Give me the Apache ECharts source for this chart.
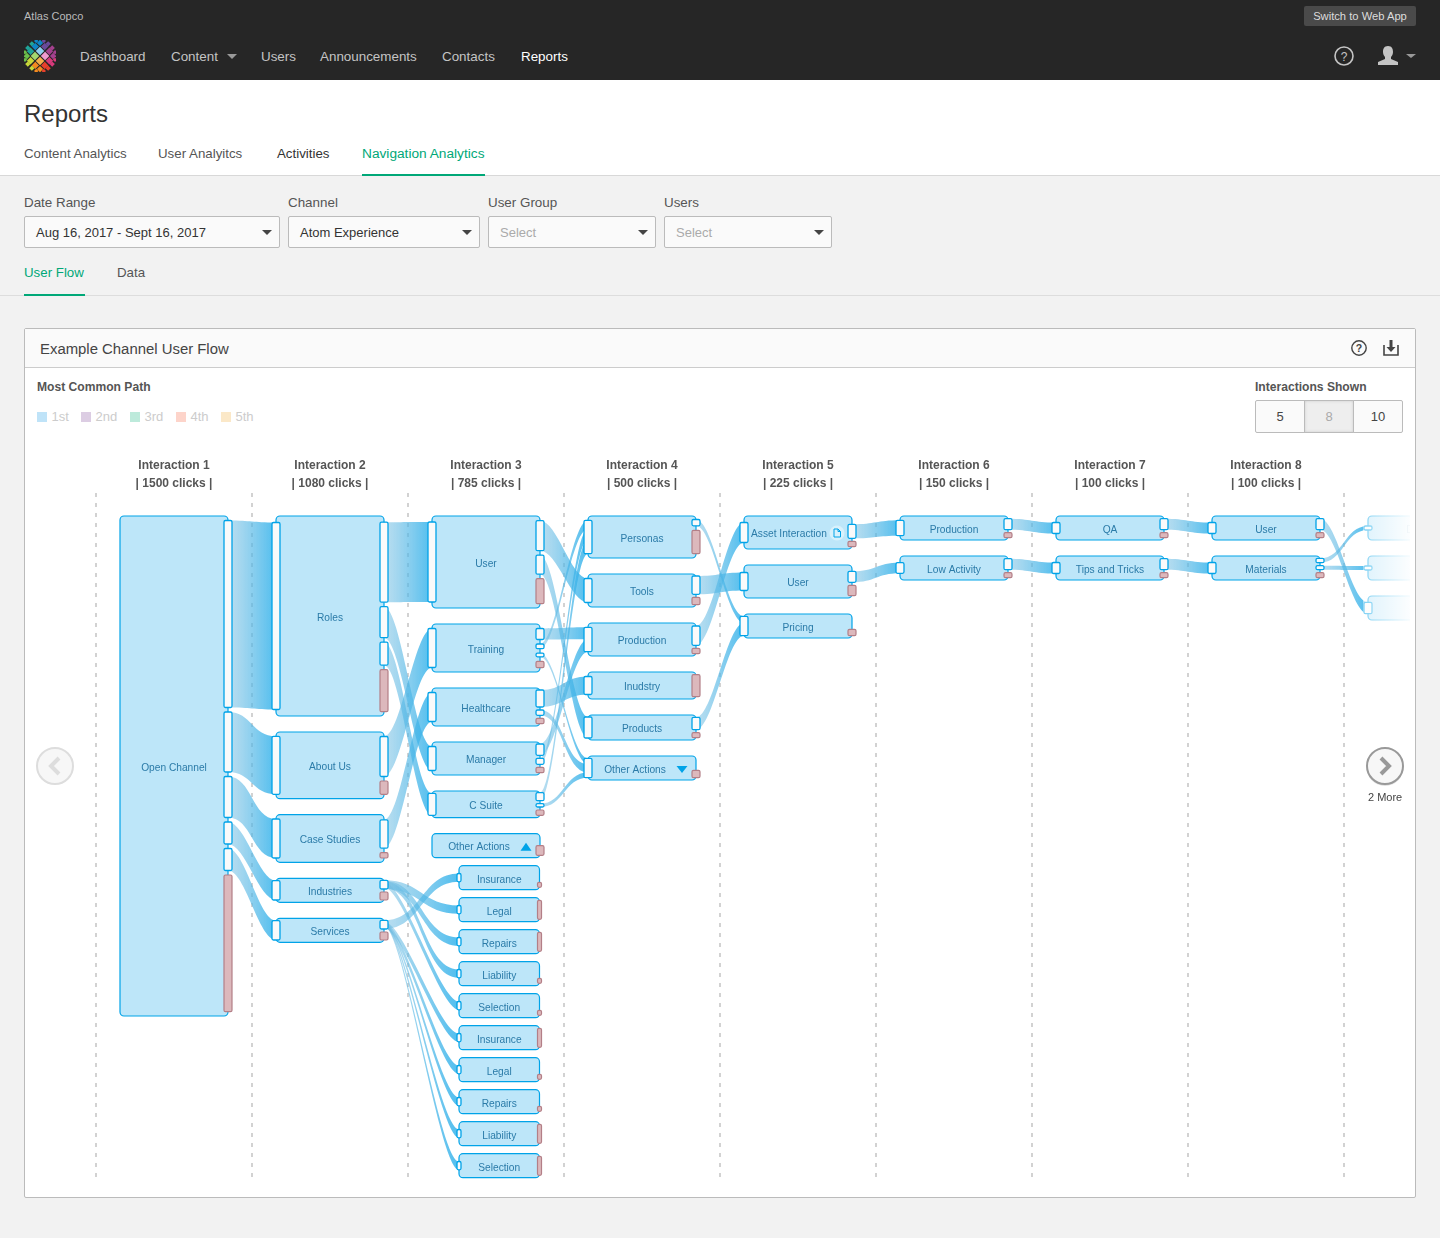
<!DOCTYPE html>
<html lang="en">
<head>
<meta charset="UTF-8">
<title>Reports - Navigation Analytics</title>
<script src="https://cdn.jsdelivr.net/npm/echarts@6/dist/echarts.min.js"></script>
<style>
    html, body { margin: 0; padding: 0; }
    body { width: 1440px; height: 1238px; position: relative; overflow: hidden; background: #f2f2f2;
           font-family: "Liberation Sans", Arial, sans-serif; color: #444; }
    .abs { position: absolute; white-space: nowrap; }
    .mid { transform: translateY(-50%); }
    #topbar { left: 0; top: 0; width: 1440px; height: 80px; background: #262626; }
    .nav { font-size: 13.4px; color: #c4c4c4; top: 56px; }
    #head { left: 0; top: 80px; width: 1440px; height: 95px; background: #fff; border-bottom: 1px solid #d8d8d8; }
    .tab { font-size: 13.3px; color: #555; }
    .green { color: #00a878; }
    .bar { background: #00a878; height: 2px; }
    .lab { font-size: 13.4px; color: #555; top: 202px; }
    .sel { top: 216px; height: 30px; background: #fafafa; border: 1px solid #bbb; border-radius: 2px; font-size: 13px;
           line-height: 31px; padding-left: 11px; box-sizing: content-box; color: #333; }
    .sel.off { color: #aaa; }
    .caret { width: 0; height: 0; border-left: 5px solid transparent; border-right: 5px solid transparent; border-top: 5px solid #444; }
    #card { left: 24px; top: 328px; width: 1390px; height: 868px; background: #fff; border: 1px solid #bbb; border-radius: 2px; }
    #cardhead { left: 25px; top: 329px; width: 1390px; height: 38px; background: #fafafa; border-bottom: 1px solid #ccc; }
    .sq { width: 10px; height: 10px; top: 412px; }
    .lg { font-size: 13px; color: #ccc; top: 416px; }
    .bold { font-size: 12.1px; font-weight: bold; color: #555; top: 386.500px; }
    .btn { top: 400px; width: 48px; height: 31px; border: 1px solid #bbb; font-size: 13px; line-height: 32px; text-align: center; background: #fafafa; color: #444; }
    #clip { left: 0; top: 440px; width: 1410px; height: 750px; overflow: hidden; }
    #main { position: absolute; left: 0; top: 0; width: 1510px; height: 750px; }
</style>
</head>
<body>
<div class="abs" id="topbar"></div>
<div class="abs mid" style="left:24px;top:16px;font-size:11px;color:#bbb">Atlas Copco</div>
<svg class="abs" id="logo" style="left:24px;top:40px" width="32" height="32" viewBox="0 0 32 32"></svg>
<div class="abs mid nav" style="left:80px">Dashboard</div>
<div class="abs mid nav" style="left:171px">Content</div>
<div class="abs caret" style="left:227px;top:54px;border-top-color:#999"></div>
<div class="abs mid nav" style="left:261px">Users</div>
<div class="abs mid nav" style="left:320px">Announcements</div>
<div class="abs mid nav" style="left:442px">Contacts</div>
<div class="abs mid nav" style="left:521px;color:#fff">Reports</div>
<div class="abs mid" style="left:1304px;top:16px;width:112px;height:20px;line-height:20px;text-align:center;background:#4a4a4a;border-radius:2px;font-size:11.2px;color:#ddd;transform:translateY(-50%)">Switch to Web App</div>
<svg class="abs" style="left:1330px;top:42px" width="90" height="30" viewBox="0 0 90 30">
    <circle cx="14" cy="14" r="9" fill="none" stroke="#c4c4c4" stroke-width="1.6"/>
    <text x="14" y="18.5" text-anchor="middle" font-size="12" fill="#c4c4c4" font-family="Liberation Sans">?</text>
    <path d="M58 4c4 0 5 3 5 6 0 2-1 4-2 5v2l7 3v3H48v-3l7-3v-2c-1-1-2-3-2-5 0-3 1-6 5-6z" fill="#c4c4c4"/>
    <path d="M76 12h10l-5 4z" fill="#999"/>
</svg>

<div class="abs" id="head"></div>
<div class="abs mid" style="left:24px;top:114px;font-size:24px;color:#333">Reports</div>
<div class="abs mid tab" style="left:24px;top:152.500px">Content Analytics</div>
<div class="abs mid tab" style="left:158px;top:152.500px">User Analyitcs</div>
<div class="abs mid tab" style="left:277px;top:152.500px;color:#333">Activities</div>
<div class="abs mid tab green" style="left:362px;top:152.500px;font-size:13.7px">Navigation Analytics</div>
<div class="abs bar" style="left:362px;top:174px;width:123px"></div>

<div class="abs mid lab" style="left:24px">Date Range</div>
<div class="abs mid lab" style="left:288px">Channel</div>
<div class="abs mid lab" style="left:488px">User Group</div>
<div class="abs mid lab" style="left:664px">Users</div>
<div class="abs sel" style="left:24px;width:243px">Aug 16, 2017 - Sept 16, 2017</div>
<div class="abs sel" style="left:288px;width:179px">Atom Experience</div>
<div class="abs sel off" style="left:488px;width:155px">Select</div>
<div class="abs sel off" style="left:664px;width:155px">Select</div>
<div class="abs caret" style="left:262px;top:230px"></div>
<div class="abs caret" style="left:462px;top:230px"></div>
<div class="abs caret" style="left:638px;top:230px"></div>
<div class="abs caret" style="left:814px;top:230px"></div>
<div class="abs mid tab green" style="left:24px;top:272px">User Flow</div>
<div class="abs mid tab" style="left:117px;top:272px">Data</div>
<div class="abs" style="left:0;top:295px;width:1440px;height:1px;background:#ddd"></div>
<div class="abs bar" style="left:24px;top:294px;width:61px"></div>

<div class="abs" id="card"></div>
<div class="abs" id="cardhead"></div>
<div class="abs mid" style="left:40px;top:348.500px;font-size:14.9px;color:#444">Example Channel User Flow</div>
<svg class="abs" style="left:1348px;top:337px" width="56" height="22" viewBox="0 0 56 22">
    <circle cx="11" cy="11" r="7.2" fill="none" stroke="#444" stroke-width="1.4"/>
    <text x="11" y="15" text-anchor="middle" font-size="10.5" font-weight="bold" fill="#444" font-family="Liberation Sans">?</text>
    <path d="M36 8v10h14V8" fill="none" stroke="#444" stroke-width="1.6"/>
    <path d="M41.5 3h3v7h3l-4.500 5-4.500-5h3z" fill="#444"/>
</svg>
<div class="abs mid bold" style="left:37px">Most Common Path</div>
<div class="abs mid bold" style="left:1255px">Interactions Shown</div>
<div id="legend"></div>
<div class="abs btn" style="left:1255px;border-radius:2px 0 0 2px">5</div>
<div class="abs btn" style="left:1304px;background:#eee;color:#aaa;box-shadow:inset 0 0 3px #ccc">8</div>
<div class="abs btn" style="left:1353px;border-radius:0 2px 2px 0;width:48px">10</div>

<div class="abs" id="clip"><div id="main"></div></div>

<svg class="abs" style="left:30px;top:741px" width="50" height="50" viewBox="0 0 50 50">
    <circle cx="25" cy="25" r="18" fill="#f7f7f7" stroke="#ddd" stroke-width="2"/>
    <path d="M29 17l-8 8 8 8" fill="none" stroke="#ddd" stroke-width="4"/>
</svg>
<svg class="abs" style="left:1360px;top:741px" width="50" height="50" viewBox="0 0 50 50">
    <circle cx="25" cy="26.500" r="18.500" fill="#ccc" opacity="0.6"/>
    <circle cx="25" cy="25" r="18" fill="#f7f7f7" stroke="#999" stroke-width="2"/>
    <path d="M21 17l8 8-8 8" fill="none" stroke="#999" stroke-width="4"/>
</svg>
<div class="abs mid" style="left:1368px;top:797px;font-size:11px;color:#444">2 More</div>

<script type="text/javascript">
// column headers
var interactions = ['Interaction 1', 'Interaction 2', 'Interaction 3', 'Interaction 4', 'Interaction 5',
    'Interaction 6', 'Interaction 7', 'Interaction 8', ''];
var interactionClicks = [1500, 1080, 785, 500, 225, 150, 100, 100, null];

// legend
var legendNames = ['1st', '2nd', '3rd', '4th', '5th'];
var legendColors = ['#bfe3f8', '#dccde3', '#bdeadb', '#fdd4ca', '#fbe8c8'];

// nodes, one row each: id, column, name, clicks, clicks arriving, clicks dropped
var nodeRows = [
    ['open', 0, 'Open Channel', 1500, 0, 410],

    ['roles', 1, 'Roles', 600, 561, 126],
    ['about', 1, 'About Us', 200, 174, 40],
    ['case', 1, 'Case Studies', 143, 117, 16],
    ['industries', 1, 'Industries', 72, 58, 24],
    ['services', 1, 'Services', 72, 58, 24],

    ['user3', 2, 'User', 276, 240, 75],
    ['training', 2, 'Training', 144, 117, 19],
    ['healthcare', 2, 'Healthcare', 114, 87, 16],
    ['manager', 2, 'Manager', 99, 72, 16],
    ['csuite', 2, 'C Suite', 80, 66, 16],
    ['other3', 2, 'Other Actions', 72, 0, 29],

    ['personas', 3, 'Personas', 126, 100, 70],
    ['tools', 3, 'Tools', 99, 72, 22],
    ['production4', 3, 'Production', 99, 73, 16],
    ['industry', 3, 'Inudstry', 81, 54, 66],
    ['products', 3, 'Products', 75, 63, 15],
    ['other4', 3, 'Other Actions', 72, 58, 22],

    ['asset', 4, 'Asset Interaction', 99, 60, 16],
    ['user5', 4, 'User', 99, 54, 31],
    ['pricing', 4, 'Pricing', 72, 58, 19],

    ['production6', 5, 'Production', 72, 46, 15],
    ['lowactivity', 5, 'Low Activity', 72, 32, 15],

    ['qa', 6, 'QA', 72, 33, 15],
    ['tips', 6, 'Tips and Tricks', 72, 33, 15],

    ['user8', 7, 'User', 72, 33, 15],
    ['materials', 7, 'Materials', 72, 33, 15],

    ['next1', 8, 'Design', 72, 12, 0],
    ['next2', 8, 'Fleet', 72, 12, 0],
    ['next3', 8, 'QA', 72, 34, 0]
];

// expanded "Other Actions" of interaction 3: id, name, clicks arriving, clicks dropped
var otherRows = [
    ['ins1', 'Insurance', 25, 15],
    ['leg1', 'Legal', 25, 57],
    ['rep1', 'Repairs', 25, 57],
    ['lia1', 'Liability', 25, 15],
    ['sel1', 'Selection', 25, 15],
    ['ins2', 'Insurance', 25, 57],
    ['leg2', 'Legal', 25, 15],
    ['rep2', 'Repairs', 25, 15],
    ['lia2', 'Liability', 25, 57],
    ['sel2', 'Selection', 25, 57]
];
var otherClicks = 72;

// flows: source, target, clicks
var linkRows = [
    ['open', 'roles', 561], ['open', 'about', 180], ['open', 'case', 123], ['open', 'industries', 66], ['open', 'services', 66],

    ['roles', 'user3', 240], ['roles', 'manager', 93], ['roles', 'csuite', 69],
    ['about', 'training', 120],
    ['case', 'healthcare', 85],
    ['industries', 'leg1', 9], ['industries', 'rep1', 8], ['industries', 'lia1', 7], ['industries', 'sel1', 6],
    ['services', 'ins1', 8], ['services', 'ins2', 6], ['services', 'leg2', 5], ['services', 'rep2', 3], ['services', 'lia2', 3], ['services', 'sel2', 3],

    ['user3', 'tools', 90], ['user3', 'products', 57],
    ['training', 'production4', 33], ['training', 'personas', 14], ['training', 'other4', 11],
    ['healthcare', 'industry', 51], ['healthcare', 'other4', 16],
    ['manager', 'production4', 34], ['manager', 'personas', 18],
    ['csuite', 'personas', 24], ['csuite', 'other4', 10],

    ['personas', 'pricing', 19],
    ['tools', 'user5', 55],
    ['production4', 'asset', 58],
    ['products', 'pricing', 37],

    ['asset', 'production6', 42],
    ['user5', 'lowactivity', 33],
    ['production6', 'qa', 33],
    ['lowactivity', 'tips', 33],
    ['qa', 'user8', 33],
    ['tips', 'materials', 33],
    ['user8', 'next3', 33],
    ['materials', 'next1', 13], ['materials', 'next2', 12]
];

// these send all their flows out of one port
var sharedPortNodes = ['industries', 'services'];
var sharedPortClicks = 26;

var COL_TOP = 69;      // clicks from the top of the plot to the first node
var COL_GAP = 48;
var CHILD_GAP = 24;
var PER_PX = 3;        // clicks per pixel on the y axis
var BOX_W = 108;

// stack everything in click units, the axes turn it into pixels
var nodes = [];
var nodeById = {};
var nextTop = {};

function addNode(id, column, name, clicks, received, dropped, child) {
    var top = nextTop[column] === undefined ? COL_TOP : nextTop[column];
    var n = { id: id, column: column, name: name, top: top, clicks: clicks, received: received,
        dropped: dropped, child: child, out: [], ins: [] };
    nodes.push(n);
    nodeById[id] = n;
    nextTop[column] = top + clicks + (id === 'other3' ? CHILD_GAP : (child ? CHILD_GAP : COL_GAP));
}

nodeRows.forEach(function (r) { addNode(r[0], r[1], r[2], r[3], r[4], r[5], false); });
otherRows.forEach(function (r) { addNode(r[0], 2, r[1], otherClicks, r[2], r[3], true); });

var links = linkRows.map(function (r) {
    var l = { source: nodeById[r[0]], target: nodeById[r[1]], clicks: r[2] };
    l.source.out.push(l);
    l.target.ins.push(l);
    return l;
});

nodes.forEach(function (n) {
    var big = n.clicks >= 120;
    var gap = big ? 13.5 : 9;
    var bottom = n.top + n.clicks - (big ? 13 : 7);

    n.ports = [];
    if (n.dropped) {
        n.dropPort = [bottom - n.dropped, bottom];
        bottom -= n.dropped + gap;
    }
    if (sharedPortNodes.indexOf(n.id) >= 0) {
        // flows overlap on the port, the biggest one fills it
        var biggest = Math.max.apply(null, n.out.map(function (l) { return l.clicks; }));
        var portMid = bottom - sharedPortClicks / 2;
        n.ports.push([bottom - sharedPortClicks, bottom]);
        n.out.forEach(function (l) {
            var half = l.clicks / biggest * sharedPortClicks / 2;
            l.sy0 = portMid - half;
            l.sy1 = portMid + half;
        });
    } else {
        n.out.slice().reverse().forEach(function (l) {
            l.sy0 = bottom - l.clicks;
            l.sy1 = bottom;
            n.ports.push([l.sy0, l.sy1]);
            bottom -= l.clicks + gap;
        });
    }

    // arriving port is centred, the flows share it
    n.inTop = n.top + (n.clicks - n.received) / 2;
    var sum = n.ins.reduce(function (s, l) { return s + l.clicks; }, 0);
    var t = n.inTop;
    n.ins.forEach(function (l) {
        l.ty0 = t;
        t += l.clicks / sum * n.received;
        l.ty1 = t;
    });
});

function boxOf(n, cx) {
    if (n.child) return { left: cx - 27, right: cx + 53.5, portIn: 4, portOut: 4 };
    return { left: cx - BOX_W / 2, right: cx + BOX_W / 2, portIn: 8, portOut: 8 };
}

var BLUE = '#00a3e8';
var PORT = { fill: '#fafafa', stroke: BLUE, lineWidth: 1.3 };
var DROP = { fill: '#dcb8bc', stroke: '#b37f87', lineWidth: 1.2 };
var TEXT = '#2b7ba8';

function box(x, y, w, h, r, style) {
    return { type: 'rect', shape: { x: x, y: y, width: w, height: h, r: r }, style: style };
}

function renderLink(params, api) {
    var l = links[api.value(2)];
    var cxS = api.coord([l.source.column, 0])[0];
    var cxT = api.coord([l.target.column, 0])[0];
    var x0 = boxOf(l.source, cxS).right;
    var x1 = boxOf(l.target, cxT).left;
    var s0 = api.coord([0, l.sy0])[1];
    var s1 = api.coord([0, l.sy1])[1];
    var t0 = api.coord([0, l.ty0])[1];
    var t1 = api.coord([0, l.ty1])[1];
    // long drops run straight and only bend close to the ports
    var dx = x1 - x0;
    var bend = Math.abs(t0 - s0) > dx * 1.2 ? (l.target.child ? 0.26 : 0.36) : 0.5;
    var c0 = x0 + dx * bend;
    var c1 = x1 - dx * bend;
    var d = 'M' + x0 + ' ' + s0 + 'C' + c0 + ' ' + s0 + ' ' + c1 + ' ' + t0 + ' ' + x1 + ' ' + t0 +
        'L' + x1 + ' ' + t1 + 'C' + c1 + ' ' + t1 + ' ' + c0 + ' ' + s1 + ' ' + x0 + ' ' + s1 + 'Z';
    return {
        type: 'path',
        shape: { pathData: d },
        style: {
            fill: {
                type: 'linear', x: 0, y: 0, x2: 1, y2: 0,
                colorStops: [
                    { offset: 0, color: 'rgba(120,190,225,0.5)' },
                    { offset: 1, color: 'rgba(40,175,235,0.82)' }
                ]
            }
        }
    };
}

function renderNode(params, api) {
    var n = nodes[api.value(2)];
    var cx = api.coord([n.column, 0])[0];
    var b = boxOf(n, cx);
    var top = api.coord([0, n.top])[1];
    var bottom = api.coord([0, n.top + n.clicks])[1];
    var h = bottom - top;
    var children = [];
    var labelX = (b.left + b.right) / 2;

    children.push(box(b.left, top, b.right - b.left, h, 4, { fill: '#bde6f9', stroke: BLUE, lineWidth: 1.2 }));

    if (n.received) {
        var y0 = api.coord([0, n.inTop])[1];
        var y1 = api.coord([0, n.inTop + n.received])[1];
        children.push(box(b.left - b.portIn / 2, y0, b.portIn, y1 - y0, 1.5, PORT));
    }
    n.ports.forEach(function (p) {
        var a = api.coord([0, p[0]])[1];
        var c = api.coord([0, p[1]])[1];
        children.push(box(b.right - b.portOut / 2, a, b.portOut, c - a, 1.5, PORT));
    });
    if (n.dropPort) {
        var d0 = api.coord([0, n.dropPort[0]])[1];
        var d1 = api.coord([0, n.dropPort[1]])[1];
        children.push(box(b.right - b.portOut / 2, d0, b.portOut, d1 - d0, 1.5, DROP));
    }

    if (n.id === 'other3' || n.id === 'other4') {
        labelX -= 7;
        var tx = b.right - 14;
        var tm = (top + bottom) / 2 + 1;
        var up = n.id === 'other3';
        children.push({
            type: 'polygon',
            shape: { points: up ? [[tx - 5.5, tm + 4], [tx + 5.5, tm + 4], [tx, tm - 4]] : [[tx - 5.5, tm - 3], [tx + 5.5, tm - 3], [tx, tm + 4]] },
            style: { fill: BLUE }
        });
    }
    if (n.id === 'asset') {
        labelX -= 9;
        var ix = b.right - 15;
        var iy = top + 17;
        children.push({ type: 'circle', shape: { cx: ix, cy: iy, r: 7.5 }, style: { fill: '#d8f1fc' } });
        children.push({
            type: 'path',
            shape: { pathData: 'M' + (ix - 3) + ' ' + (iy - 4) + 'h4l2.500 2.500v5.500h-6.500zM' + (ix + 1) + ' ' + (iy - 4) + 'v2.500h2.500' },
            style: { fill: 'none', stroke: BLUE, lineWidth: 1 }
        });
    }

    children.push({
        type: 'text',
        style: {
            text: n.name, x: labelX, y: (top + bottom) / 2 + (n.child ? 3 : 2), align: 'center', verticalAlign: 'middle',
            fill: TEXT, fontSize: 10.2, fontFamily: '"Liberation Sans", Arial, sans-serif'
        }
    });

    // the ninth interaction fades out towards the right edge
    if (n.column === 8) {
        children.push(box(b.left - b.portIn / 2 - 1, top - 2, 52, h + 4, 0, {
            fill: {
                type: 'linear', x: 0, y: 0, x2: 1, y2: 0,
                colorStops: [
                    { offset: 0, color: 'rgba(255,255,255,0.5)' },
                    { offset: 1, color: 'rgba(255,255,255,1)' }
                ]
            }
        }));
    }
    return { type: 'group', children: children };
}

var myChart = echarts.init(document.getElementById('main'), null, { renderer: 'canvas' });

var option = {
    animation: false,
    backgroundColor: 'transparent',
    tooltip: { show: false },
    grid: { left: 96, top: 53, width: 156 * 9, height: 685 },
    xAxis: {
        type: 'category',
        position: 'top',
        data: interactions,
        boundaryGap: true,
        axisLine: { show: false },
        axisTick: { show: false },
        axisLabel: {
            show: true,
            interval: 0,
            margin: 0,
            color: '#555',
            fontSize: 12,
            fontWeight: 'bold',
            lineHeight: 18,
            fontFamily: '"Liberation Sans", Arial, sans-serif',
            formatter: function (value, index) {
                return value ? value + '\n| ' + interactionClicks[index] + ' clicks |' : '';
            }
        },
        splitLine: {
            show: true,
            interval: 0,
            lineStyle: { color: '#d2d2d2', width: 2, type: [4, 6] }
        }
    },
    yAxis: {
        type: 'value',
        inverse: true,
        min: 0,
        max: 685 * PER_PX,
        show: false,
        splitLine: { show: false }
    },
    series: [
        {
            type: 'custom',
            name: 'flows',
            renderItem: renderLink,
            encode: { x: 0, y: 1 },
            silent: true,
            z: 2,
            data: links.map(function (l, i) { return [l.source.column, l.sy0, i]; })
        },
        {
            type: 'custom',
            name: 'nodes',
            renderItem: renderNode,
            encode: { x: 0, y: 1 },
            silent: true,
            z: 3,
            data: nodes.map(function (n, i) { return [n.column, n.top, i]; })
        }
    ]
};
myChart.setOption(option);

// legend row
var legendX = [37, 81, 130, 176, 221];
var legendHtml = '';
legendNames.forEach(function (name, i) {
    legendHtml += '<div class="abs sq" style="left:' + legendX[i] + 'px;background:' + legendColors[i] + '"></div>' +
        '<div class="abs mid lg" style="left:' + (legendX[i] + 14.5) + 'px">' + name + '</div>';
});
document.getElementById('legend').innerHTML = legendHtml;

// logo, a ball of coloured diamonds that shrink towards the rim
var rimColors = ['#6cc04a', '#1fa59a', '#0e86c8', '#6a4a9c', '#a5418f', '#d93a7c', '#e8402c', '#f58a1f', '#c8d93a'];
var coreColors = { left: '#a4d86e', top: '#8fd0f0', right: '#f09ccf', bottom: '#f6b04a' };
var logoHtml = '';
for (var a = -2.5; a <= 2.5; a++) {
    for (var c = -2.5; c <= 2.5; c++) {
        var ux = a - c;
        var uy = a + c;
        var r = Math.hypot(ux, uy);
        if (r > 4.6) continue;
        var k = r / 4.9 * Math.PI / 2;
        var rr = r ? 16 * Math.sin(k) / r : 0;
        var px = 16 + ux * rr;
        var py = 16 + uy * rr;
        var size = 1.5 + 2.9 * Math.cos(k);
        var fill;
        if (r <= 1) {
            fill = ux < 0 ? coreColors.left : ux > 0 ? coreColors.right : uy < 0 ? coreColors.top : coreColors.bottom;
        } else {
            var sector = Math.floor((Math.atan2(uy, ux) + Math.PI + 0.3) / (2 * Math.PI) * 9) % 9;
            fill = rimColors[sector];
        }
        logoHtml += '<path d="M' + px + ' ' + (py - size) + 'l' + size + ' ' + size + '-' + size + ' ' + size + '-' + size + '-' + size + 'z" fill="' + fill + '"/>';
    }
}
document.getElementById('logo').innerHTML = logoHtml;
</script>
</body>
</html>
